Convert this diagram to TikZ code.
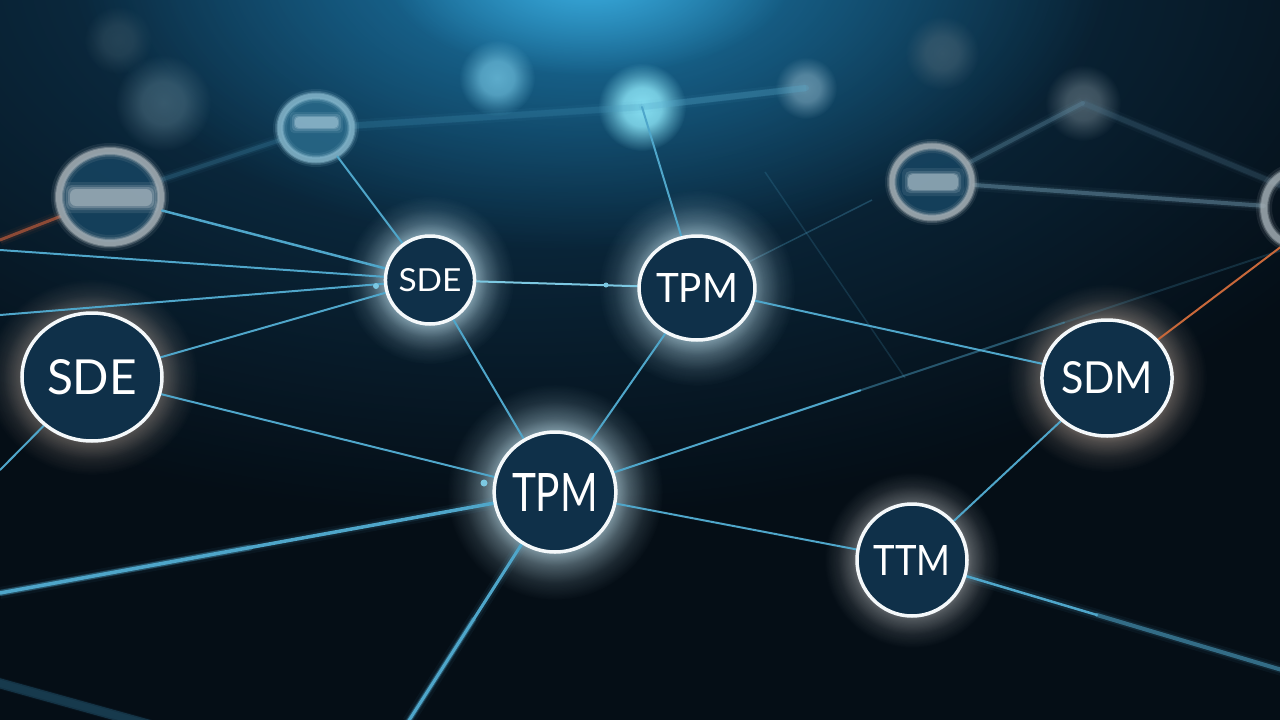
\documentclass[tikz,border=0pt]{standalone}
\usepackage{fontspec}
\setmainfont{Lato}
\usetikzlibrary{fadings,calc,shapes.geometric}

\pgfdeclareradialshading{softglowshade}{\pgfpointorigin}{color(0bp)=(white); color(13bp)=(white!70!black); color(17bp)=(white!35!black); color(21bp)=(white!12!black); color(25bp)=(black); color(50bp)=(black)}
\pgfdeclarefading{softglow}{\pgfuseshading{softglowshade}}
\pgfdeclareradialshading{blobshade}{\pgfpointorigin}{color(0bp)=(white); color(11bp)=(white!85!black); color(18bp)=(white!40!black); color(25bp)=(black); color(50bp)=(black)}
\pgfdeclarefading{blobfade}{\pgfuseshading{blobshade}}
\pgfdeclareradialshading{wideshade}{\pgfpointorigin}{color(0bp)=(white); color(10bp)=(white!60!black); color(25bp)=(black); color(50bp)=(black)}
\pgfdeclarefading{widefade}{\pgfuseshading{wideshade}}

\pgfdeclarelayer{back}
\pgfdeclarelayer{glows}
\pgfdeclarelayer{links}
\pgfsetlayers{back,glows,links,main}

\definecolor{bgdark}{HTML}{050E16}
\definecolor{bgblue}{HTML}{0F3D5C}
\definecolor{topglow}{HTML}{1F86BA}
\definecolor{topbright}{HTML}{3FB4E6}
\definecolor{edgecol}{HTML}{4FA6CA}
\definecolor{edgebright}{HTML}{7CC8E2}
\definecolor{nodefill}{HTML}{0F3049}
\definecolor{ringcol}{HTML}{F4F8FA}
\definecolor{coolglow}{HTML}{C6E8F5}
\definecolor{warmglow}{HTML}{F2D5C0}
\definecolor{orangeline}{HTML}{C8683A}
\definecolor{greyring}{HTML}{A3AEB4}
\definecolor{bluering}{HTML}{86B7CC}
\definecolor{ringfill}{HTML}{174562}
\definecolor{cA}{HTML}{3A5666}
\definecolor{cB}{HTML}{55788A}
\definecolor{cC}{HTML}{6FC0DE}
\definecolor{cD}{HTML}{8CE6F8}
\definecolor{cE}{HTML}{7FA9BE}
\definecolor{cF}{HTML}{58707E}
\definecolor{cG}{HTML}{7A8C96}
\definecolor{lA}{HTML}{3F86A8}
\definecolor{lB}{HTML}{4A9CC0}
\definecolor{lC}{HTML}{5AAED0}
\definecolor{lD}{HTML}{6F98AE}
\definecolor{lE}{HTML}{5E8AA2}
\definecolor{lF}{HTML}{4F7890}
\definecolor{lG}{HTML}{2E7090}
\definecolor{lH}{HTML}{B0573A}
\definecolor{barA}{HTML}{B9C6CC}
\definecolor{fillB}{HTML}{2A6A8A}
\definecolor{barB}{HTML}{A8CCDC}
\definecolor{barC}{HTML}{AFC2CC}

\newcommand{\lbl}[3]{\resizebox{#1pt}{#2pt}{#3}}

\tikzset{
  hub/.style={ellipse, draw=ringcol, line width=3.5pt, fill=nodefill, text=white,
              inner sep=0pt, font=\fontsize{40}{40}\selectfont},
  link/.style={draw=edgecol, line width=2pt, line cap=round},
  blurline/.style={line cap=round, draw=#1,
     preaction={draw=#1, line width=12pt, opacity=0.06},
     preaction={draw=#1, line width=7pt, opacity=0.12}},
  ghost/.style={ellipse, inner sep=0pt},
}

\begin{document}
\begin{tikzpicture}[x=1pt,y=-1pt]
\useasboundingbox (0,0) rectangle (1280,720);
\clip (0,0) rectangle (1280,720);

% ---------- main nodes ----------
\node[hub, minimum width=88pt,  minimum height=88pt]  (sdeS) at (430,280) {\lbl{63}{23}{SDE}};
\node[hub, minimum width=106pt, minimum height=104pt] (tpmT) at (697,288) {\lbl{82}{29}{TPM}};
\node[hub, minimum width=140pt, minimum height=128pt] (sdeL) at (92,377)  {\lbl{90}{35}{SDE}};
\node[hub, minimum width=120pt, minimum height=120pt] (tpmC) at (555,492) {\lbl{86}{38}{TPM}};
\node[hub, minimum width=126pt, minimum height=116pt] (sdm)  at (1107,378) {\lbl{92}{32}{SDM}};
\node[hub, minimum width=110pt, minimum height=112pt] (ttm)  at (912,560) {\lbl{77}{30}{TTM}};

% ---------- ghost (out of focus) nodes ----------
\node[ghost, minimum width=108pt, minimum height=98pt] (bA) at (110,197) {};
\node[ghost, minimum width=76pt,  minimum height=68pt] (bB) at (316,128) {};
\node[ghost, minimum width=84pt,  minimum height=76pt] (bC) at (932,182) {};
\node[ghost, minimum width=60pt,  minimum height=72pt] (bD) at (1294,208) {};
\coordinate (p1) at (118,40);
\coordinate (p2) at (163,103);
\coordinate (p3) at (497,78);
\coordinate (p4) at (642,107);
\coordinate (p5) at (806,88);
\coordinate (p6) at (942,53);
\coordinate (p7) at (1083,103);

% free ends
\coordinate (L1) at (0,250);
\coordinate (L2) at (0,315);
\coordinate (L3) at (0,470);
\coordinate (L4) at (0,593);
\coordinate (L5) at (0,240);
\coordinate (B1) at (408,722);
\coordinate (R1) at (1282,250);
\coordinate (R2) at (1282,670);
\coordinate (R3) at (1282,246);
\coordinate (R5) at (1282,186);
\coordinate (F1) at (872,200);
\coordinate (F2) at (765,172);
\coordinate (F3) at (905,378);
\coordinate (BL1) at (-5,682);
\coordinate (BL2) at (150,725);

% ---------- background ----------
\begin{pgfonlayer}{back}
\fill[bgdark] (-10,-10) rectangle (1290,730);
\fill[bgblue, path fading=widefade] (520,-40) ellipse[x radius=980pt, y radius=560pt];
\fill[topglow, path fading=widefade, fill opacity=0.85] (590,-40) ellipse[x radius=520pt, y radius=290pt];
\fill[topbright, path fading=widefade, fill opacity=0.85] (590,-20) ellipse[x radius=200pt, y radius=95pt];

% blurred blobs
\fill[cA, path fading=blobfade, fill opacity=0.55] (p1) circle[radius=34pt];
\fill[cB, path fading=blobfade, fill opacity=0.6] (p2) circle[radius=48pt];
\fill[cC, path fading=blobfade, fill opacity=0.8] (p3) circle[radius=38pt];
\fill[cD, path fading=blobfade, fill opacity=0.95] (p4) circle[radius=44pt];
\fill[cE, path fading=blobfade, fill opacity=0.7] (p5) circle[radius=31pt];
\fill[cF, path fading=blobfade, fill opacity=0.5] (p6) circle[radius=37pt];
\fill[cG, path fading=blobfade, fill opacity=0.55] (p7) circle[radius=38pt];

% faint, out of focus connectors
\draw[blurline=lA, line width=4pt, opacity=0.25] (bA) -- (bB);
\draw[blurline=lB, line width=6pt, opacity=0.12] (bB) -- (p4);
\draw[blurline=lC, line width=6pt, opacity=0.22] (p4) -- (p5);
\draw[blurline=lD, line width=4pt, opacity=0.45] (bC) -- (bD);
\draw[blurline=lE, line width=4pt, opacity=0.35] (bC) -- (p7);
\draw[blurline=lF, line width=5pt, opacity=0.2] (p7) -- (R5);
\draw[edgecol, line width=1.5pt, opacity=0.3] (tpmT) -- (F1);
\draw[edgecol, line width=1.5pt, opacity=0.18] (F2) -- (F3);
\draw[blurline=lG, line width=10pt, opacity=0.35] (BL1) -- (BL2);
\draw[blurline=lH, line width=3pt, opacity=0.75] (L5) -- (bA);

% out of focus rings
\fill[ringfill, opacity=0.85] (bA.center) ellipse[x radius=50pt, y radius=45pt];
\foreach \w/\o in {16/0.12, 11/0.25, 8/0.45, 6/0.7}
  \draw[greyring, line width=\w pt, opacity=\o] (bA.center) ellipse[x radius=51pt, y radius=46pt];
\foreach \d/\o in {7/0.12, 4/0.2, 2/0.3, 0/0.45}
  \fill[barA, rounded corners=6pt, opacity=\o] (70-\d,189-\d) rectangle (152+\d,206+\d);

\fill[fillB, opacity=0.85] (bB.center) ellipse[x radius=35pt, y radius=31pt];
\foreach \w/\o in {14/0.12, 10/0.25, 7/0.45, 5/0.65}
  \draw[bluering, line width=\w pt, opacity=\o] (bB.center) ellipse[x radius=36pt, y radius=32pt];
\foreach \d/\o in {5/0.12, 3/0.2, 1/0.3, 0/0.4}
  \fill[barB, rounded corners=4pt, opacity=\o] (295-\d,117-\d) rectangle (338+\d,128+\d);

\fill[ringfill, opacity=0.85] (bC.center) ellipse[x radius=39pt, y radius=35pt];
\foreach \w/\o in {14/0.12, 10/0.25, 7/0.45, 5/0.7}
  \draw[greyring, line width=\w pt, opacity=\o] (bC.center) ellipse[x radius=40pt, y radius=36pt];
\foreach \d/\o in {6/0.12, 3/0.2, 1/0.3, 0/0.45}
  \fill[barC, rounded corners=5pt, opacity=\o] (908-\d,174-\d) rectangle (958+\d,190+\d);

\foreach \w/\o in {16/0.12, 11/0.25, 8/0.45, 6/0.6}
  \draw[greyring, line width=\w pt, opacity=\o] (bD.center) ellipse[x radius=30pt, y radius=36pt];
\end{pgfonlayer}

% ---------- glows ----------
\begin{pgfonlayer}{glows}
\fill[coolglow, path fading=softglow, fill opacity=0.9]  (sdeS.center) circle[radius=84pt];
\fill[coolglow, path fading=softglow, fill opacity=0.9]  (tpmT.center) circle[radius=98pt];
\fill[warmglow, path fading=softglow, fill opacity=0.85] (sdeL.center) ellipse[x radius=106pt, y radius=98pt];
\fill[coolglow, path fading=softglow, fill opacity=1]    (tpmC.center) circle[radius=108pt];
\fill[warmglow, path fading=softglow, fill opacity=0.85] (sdm.center) ellipse[x radius=100pt, y radius=94pt];
\fill[white, path fading=softglow, fill opacity=0.8]     (ttm.center) circle[radius=88pt];
\end{pgfonlayer}

% ---------- connectors ----------
\begin{pgfonlayer}{links}
\draw[link, draw=edgebright] (sdeS) -- (tpmT);
\draw[link] (sdeS) -- (tpmC);
\draw[link] (tpmT) -- (tpmC);
\draw[link] (sdeL) -- (sdeS);
\draw[link] (sdeL) -- (tpmC);
\draw[link] (tpmC) -- (ttm);
\draw[link] (ttm) -- (sdm);
\draw[link] (tpmT) -- (sdm);
\draw[link] (bB) -- (sdeS);
\draw[link, line width=2.5pt] (bA) -- (sdeS);
\draw[link] (L1) -- (sdeS);
\draw[link] (L2) -- (sdeS);
\draw[link] (sdeL) -- (L3);
\draw[link] (tpmT) -- (p4);
% thick perspective connectors
\draw[blurline=edgecol, line width=3.5pt] (L4) -- (tpmC);
\draw[edgecol, line width=6pt, opacity=0.35, line cap=round] (L4) -- ($(L4)!0.45!(tpmC)$);
\draw[blurline=edgecol, line width=3pt] (tpmC) -- (B1);
\draw[edgecol, line width=5pt, opacity=0.35] ($(tpmC)!0.55!(B1)$) -- (B1);
% fading connectors toward the right
\draw[link] (tpmC) -- ($(tpmC)!0.42!(R1)$);
\draw[link, opacity=0.45] ($(tpmC)!0.42!(R1)$) -- ($(tpmC)!0.7!(R1)$);
\draw[link, opacity=0.2] ($(tpmC)!0.7!(R1)$) -- (R1);
\draw[blurline=edgecol, line width=2.5pt] (ttm) -- ($(ttm)!0.5!(R2)$);
\draw[blurline=edgecol, line width=4pt, opacity=0.55] ($(ttm)!0.5!(R2)$) -- (R2);
\draw[orangeline, line width=2pt, line cap=round] (sdm) -- (R3);
% small bright packets
\fill[edgebright] (376,286) circle[radius=3pt];
\fill[edgebright] (484,483) circle[radius=3.5pt];
\fill[edgebright] (606,285) circle[radius=2.5pt];
\end{pgfonlayer}
\end{tikzpicture}
\end{document}
